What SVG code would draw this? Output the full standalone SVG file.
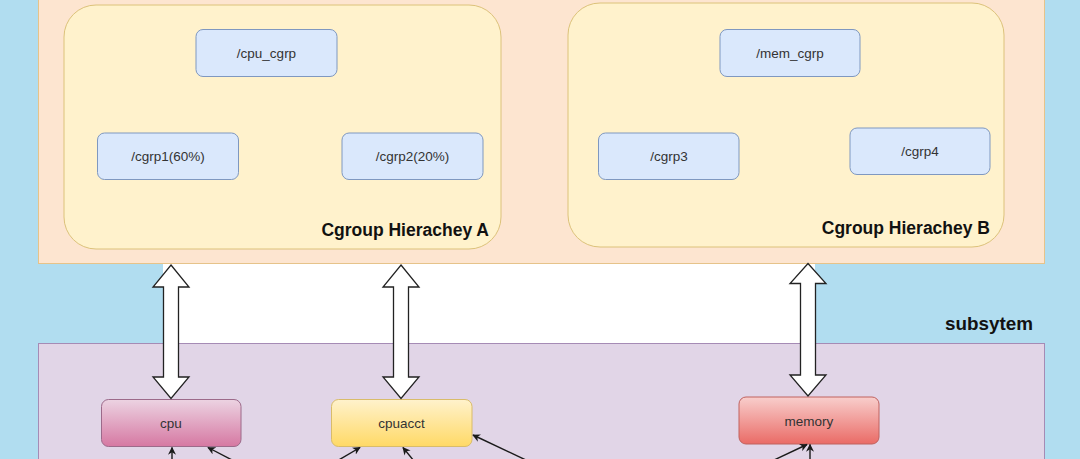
<svg xmlns="http://www.w3.org/2000/svg" width="1080" height="459" viewBox="0 0 1080 459">
<defs>
<style>
.panelTop{fill:#fde5d0;stroke:#e6c38a;stroke-width:1}
.panelBot{fill:#e1d5e7;stroke:#a58bb5;stroke-width:1}
.hier{fill:#fff2cc;stroke:#dcc27a;stroke-width:1}
.cg{fill:#dae8fc;stroke:#7f98c0;stroke-width:1}
.lbl{font-family:"Liberation Sans",Arial,sans-serif;font-size:13.5px;fill:#333;text-anchor:middle}
.big{font-family:"Liberation Sans",Arial,sans-serif;font-size:17.5px;font-weight:bold;fill:#111;text-anchor:end}
.blk{fill:#ffffff;stroke:#222;stroke-width:1.3;stroke-linejoin:miter}
.ln{stroke:#1a1a1a;stroke-width:1.4;fill:none}
</style>
<linearGradient id="gCpu" x1="0" y1="0" x2="0" y2="1"><stop offset="0" stop-color="#ecd3e2"/><stop offset="1" stop-color="#d678a2"/></linearGradient>
<linearGradient id="gAcct" x1="0" y1="0" x2="0" y2="1"><stop offset="0" stop-color="#fff2cc"/><stop offset="1" stop-color="#ffd966"/></linearGradient>
<linearGradient id="gMem" x1="0" y1="0" x2="0" y2="1"><stop offset="0" stop-color="#f8cecc"/><stop offset="1" stop-color="#ea6b66"/></linearGradient>
<marker id="ah" viewBox="0 0 10 10" refX="9" refY="5" markerWidth="8" markerHeight="8" markerUnits="userSpaceOnUse" orient="auto">
<path d="M0,0 L10,5 L0,10 L3,5 Z" fill="#1a1a1a"/>
</marker>
</defs>
<rect x="0" y="0" width="1080" height="459" fill="#b1ddf0"/>
<rect x="163" y="263" width="652" height="80" fill="#ffffff"/>
<g id="panel-top"><rect class="panelTop" x="38.5" y="-5" width="1006" height="268.5"/></g>
<g id="panel-subsystem"><rect class="panelBot" x="38.5" y="343.5" width="1006" height="130"/>
<text x="1033" y="330" font-family="'Liberation Sans',Arial,sans-serif" font-size="18" font-weight="bold" fill="#111" text-anchor="end" textLength="88" lengthAdjust="spacingAndGlyphs">subsytem</text></g>
<g id="hierarchy-a"><rect class="hier" x="64" y="5" width="437" height="244" rx="32"/><text class="big" x="489" y="236">Cgroup Hierachey A</text></g>
<g id="hierarchy-b"><rect class="hier" x="568" y="3" width="436" height="244" rx="32"/><text class="big" x="990" y="234">Cgroup Hierachey B</text></g>
<g id="cpu_cgrp"><rect class="cg" x="196" y="29.5" width="141" height="47" rx="7"/><text class="lbl" x="266.5" y="58">/cpu_cgrp</text></g>
<g id="cgrp1"><rect class="cg" x="97.5" y="133" width="141" height="46.5" rx="7"/><text class="lbl" x="168" y="161">/cgrp1(60%)</text></g>
<g id="cgrp2"><rect class="cg" x="342" y="133" width="141" height="46.5" rx="7"/><text class="lbl" x="412.5" y="161">/cgrp2(20%)</text></g>
<g id="mem_cgrp"><rect class="cg" x="720" y="29.5" width="140" height="47" rx="7"/><text class="lbl" x="790" y="58">/mem_cgrp</text></g>
<g id="cgrp3"><rect class="cg" x="598.5" y="133" width="140.5" height="46.5" rx="7"/><text class="lbl" x="669" y="161">/cgrp3</text></g>
<g id="cgrp4"><rect class="cg" x="850" y="128" width="140" height="46.5" rx="7"/><text class="lbl" x="920" y="156">/cgrp4</text></g>
<g id="cpu"><rect x="101.5" y="399.5" width="139.5" height="47" rx="7" fill="url(#gCpu)" stroke="#9c6a8a"/><text class="lbl" x="171" y="428">cpu</text></g>
<g id="cpuacct"><rect x="331.5" y="399.5" width="140.5" height="47" rx="7" fill="url(#gAcct)" stroke="#d9bc6a"/><text class="lbl" x="401.5" y="428">cpuacct</text></g>
<g id="memory"><rect x="739" y="397" width="140" height="47" rx="7" fill="url(#gMem)" stroke="#c0625f"/><text class="lbl" x="809" y="426" fill="#4a1f1f">memory</text></g>
<g id="connectors">
<path class="blk" d="M171,265 L189,287 L178.5,287 L178.5,377 L189,377 L171,398.5 L153,377 L163.5,377 L163.5,287 L153,287 Z"/>
<path class="blk" d="M401,265 L419,287 L408.5,287 L408.5,377 L419,377 L401,398.5 L383,377 L393.5,377 L393.5,287 L383,287 Z"/>
<path class="blk" d="M808,263.5 L826,283.5 L815.5,283.5 L815.5,375 L826,375 L808,396 L790,375 L800.5,375 L800.5,283.5 L790,283.5 Z"/>
<line class="ln" x1="172" y1="462" x2="172" y2="447.5" marker-end="url(#ah)"/>
<line class="ln" x1="234" y1="461" x2="208" y2="447.5" marker-end="url(#ah)"/>
<line class="ln" x1="337" y1="461" x2="360" y2="447.5" marker-end="url(#ah)"/>
<line class="ln" x1="414" y1="461" x2="403" y2="447.5" marker-end="url(#ah)"/>
<line class="ln" x1="528" y1="461" x2="473" y2="435" marker-end="url(#ah)"/>
<line class="ln" x1="772" y1="461" x2="807" y2="444.5" marker-end="url(#ah)"/>
<line class="ln" x1="810" y1="462" x2="810" y2="444.5" marker-end="url(#ah)"/>
</g>
</svg>
